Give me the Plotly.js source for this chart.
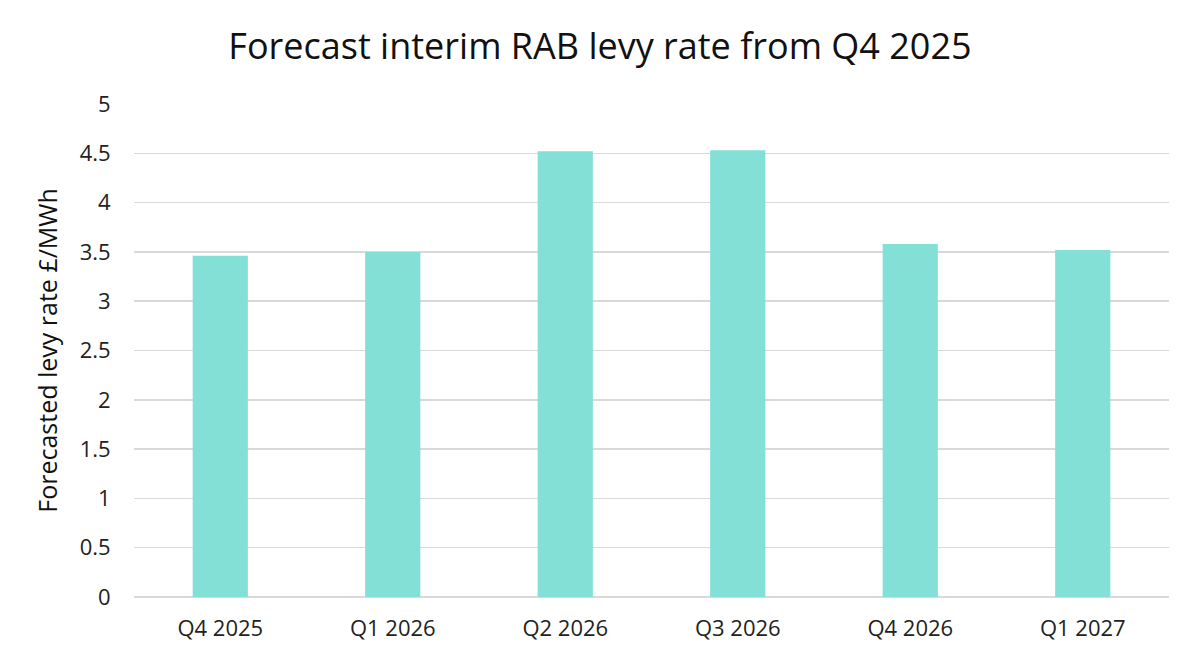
<!DOCTYPE html>
<html>
<head>
<meta charset="utf-8">
<script src="https://cdn.plot.ly/plotly-3.0.1.min.js"></script>
<style>html,body{margin:0;padding:0;background:#fff}#chart{width:1200px;height:662px}</style>
</head>
<body>
<div id="chart"></div>
<script>
const categories = ["Q4 2025", "Q1 2026", "Q2 2026", "Q3 2026", "Q4 2026", "Q1 2027"];
const levyRate = [3.46, 3.50, 4.52, 4.53, 3.58, 3.52];
const yTicks = [0, 0.5, 1, 1.5, 2, 2.5, 3, 3.5, 4, 4.5, 5];
const yTickText = ["0", "0.5", "1", "1.5", "2", "2.5", "3", "3.5", "4", "4.5", "5"];

const font = "'Open Sans', Lato, sans-serif";
Plotly.newPlot("chart", [{
  type: "bar",
  x: categories,
  y: levyRate,
  marker: {color: "#82E0D6"},
  hoverinfo: "x+y"
}], {
  width: 1200, height: 662,
  margin: {l: 134, r: 31, t: 104, b: 65},
  paper_bgcolor: "#fff", plot_bgcolor: "#fff",
  bargap: 0.68,
  font: {family: font, color: "#1a1a1a"},
  title: {text: "Forecast interim RAB levy rate from Q4 2025", font: {size: 36, family: font, color: "#111"}, x: 0.5, xanchor: "center", y: 0.93, yanchor: "middle"},
  xaxis: {tickfont: {size: 22, family: font, color: "#222"}, showgrid: false, showline: false, ticks: "outside", ticklen: 12, tickcolor: "rgba(0,0,0,0)"},
  yaxis: {
    range: [0, 5], tickvals: yTicks, ticktext: yTickText,
    tickfont: {size: 22, family: font, color: "#222"},
    showgrid: true, gridcolor: "#d9d9d9", gridwidth: 1.5,
    zeroline: true, zerolinecolor: "#d9d9d9", zerolinewidth: 1.5,
    ticks: "outside", ticklen: 18, tickcolor: "rgba(0,0,0,0)",
    title: {text: "Forecasted levy rate £/MWh", font: {size: 25, family: font, color: "#111"}, standoff: 14}
  },
  showlegend: false
}, {displayModeBar: false, staticPlot: true});
</script>
</body>
</html>
